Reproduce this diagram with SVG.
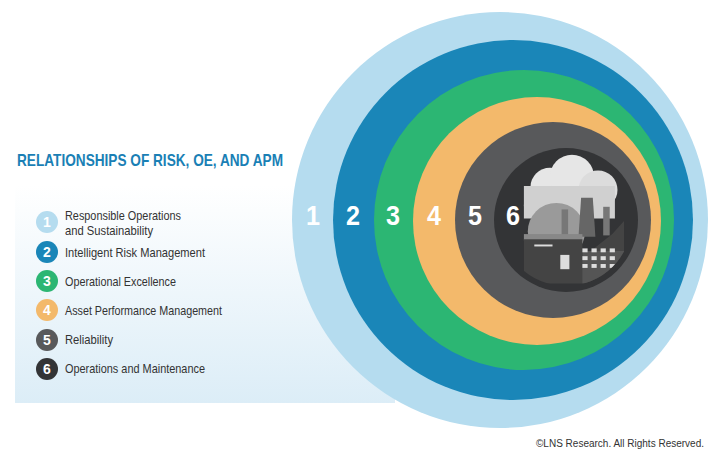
<svg xmlns="http://www.w3.org/2000/svg" width="715" height="459" viewBox="0 0 715 459">
<style>
.t{font-family:"Liberation Sans",Arial,sans-serif;font-size:13px;fill:#333}
.n{font-family:"Liberation Sans",Arial,sans-serif;font-weight:bold;font-size:14px;fill:#fff;text-anchor:middle}
.big{font-family:"Liberation Sans",Arial,sans-serif;font-weight:bold;font-size:27px;fill:#fff;text-anchor:middle}
</style>
<defs>
<linearGradient id="pg" x1="0" y1="0" x2="0" y2="1"><stop offset="0" stop-color="#fff"/><stop offset="1" stop-color="#dcedf7"/></linearGradient>
<clipPath id="cc"><circle cx="566" cy="220" r="66"/></clipPath>
</defs>
<rect width="715" height="459" fill="#fff"/>
<rect x="15" y="185" width="380" height="218" fill="url(#pg)"/>
<text x="17" y="166" font-family="Liberation Sans,Arial,sans-serif" font-weight="bold" font-size="17" fill="#1a7fb5" textLength="266" lengthAdjust="spacingAndGlyphs">RELATIONSHIPS OF RISK, OE, AND APM</text>
<g id="rings">
<circle id="r1" cx="500" cy="220" r="208" fill="#b5dcef"/>
<circle id="r2" cx="513" cy="220" r="180" fill="#1a86b8"/>
<circle id="r3" cx="524" cy="220" r="150" fill="#2cb673"/>
<circle id="r4" cx="537" cy="221" r="124" fill="#f3b96b"/>
<circle id="r5" cx="553" cy="220" r="98" fill="#58595b"/>
<circle id="r6" cx="566" cy="220" r="72" fill="#333436"/>
</g>
<g id="factory" clip-path="url(#cc)"><g transform="translate(572 212) scale(1.3) translate(-572 -215)">
<circle cx="555" cy="196" r="15" fill="#e6e6e6"/><circle cx="572" cy="188" r="17" fill="#e6e6e6"/><circle cx="592" cy="198" r="15" fill="#dcdcdc"/><circle cx="545" cy="210" r="10" fill="#d8d8d8"/>
<rect x="535" y="195" width="70" height="25" fill="#d0d0d0"/>
<circle cx="560" cy="230" r="22" fill="#9a9a9a"/>
<rect x="564" y="213" width="5" height="20" fill="#777"/><rect x="596" y="211" width="5" height="22" fill="#777"/>
<polygon points="577,234 579,204 588,204 590,234" fill="#666"/>
<rect x="535" y="232" width="45" height="5" fill="#888"/>
<polygon points="535,236 580,236 580,250 603,232 612,222 612,270 535,270" fill="#444"/>
<rect x="580" y="245" width="32" height="25" fill="#555"/>
<rect x="563" y="248" width="7" height="11" fill="#ddd"/>
<g fill="#ddd"><rect x="580" y="243" width="4" height="3"/><rect x="587" y="243" width="4" height="3"/><rect x="594" y="243" width="4" height="3"/><rect x="601" y="243" width="4" height="3"/><rect x="580" y="249" width="4" height="3"/><rect x="587" y="249" width="4" height="3"/><rect x="594" y="249" width="4" height="3"/><rect x="601" y="249" width="4" height="3"/><rect x="580" y="255" width="4" height="3"/><rect x="587" y="255" width="4" height="3"/><rect x="594" y="255" width="4" height="3"/><rect x="601" y="255" width="4" height="3"/><rect x="543" y="240" width="14" height="1.5"/></g>
</g></g>
<g id="ringnums">
<text class="big" x="313" y="225" textLength="14" lengthAdjust="spacingAndGlyphs">1</text><text class="big" x="353" y="225" textLength="14" lengthAdjust="spacingAndGlyphs">2</text><text class="big" x="393" y="225" textLength="14" lengthAdjust="spacingAndGlyphs">3</text><text class="big" x="434" y="225" textLength="14" lengthAdjust="spacingAndGlyphs">4</text><text class="big" x="475" y="225" textLength="14" lengthAdjust="spacingAndGlyphs">5</text><text class="big" x="513" y="225" textLength="14" lengthAdjust="spacingAndGlyphs">6</text>
</g>
<g id="l1"><circle cx="47" cy="222" r="11" fill="#b5dcef"/><text class="n" x="47" y="227">1</text><text class="t" x="65" y="220" textLength="116" lengthAdjust="spacingAndGlyphs">Responsible Operations</text><text class="t" x="65" y="235" textLength="88" lengthAdjust="spacingAndGlyphs">and Sustainability</text></g>
<g id="l2"><circle cx="47" cy="252" r="11" fill="#1a86b8"/><text class="n" x="47" y="257">2</text><text class="t" x="65" y="257" textLength="140" lengthAdjust="spacingAndGlyphs">Intelligent Risk Management</text></g>
<g id="l3"><circle cx="47" cy="281" r="11" fill="#2cb673"/><text class="n" x="47" y="286">3</text><text class="t" x="65" y="286" textLength="111" lengthAdjust="spacingAndGlyphs">Operational Excellence</text></g>
<g id="l4"><circle cx="47" cy="310" r="11" fill="#f3b96b"/><text class="n" x="47" y="315">4</text><text class="t" x="65" y="315" textLength="157" lengthAdjust="spacingAndGlyphs">Asset Performance Management</text></g>
<g id="l5"><circle cx="47" cy="340" r="11" fill="#58595b"/><text class="n" x="47" y="345">5</text><text class="t" x="65" y="344" textLength="48" lengthAdjust="spacingAndGlyphs">Reliability</text></g>
<g id="l6"><circle cx="47" cy="369" r="11" fill="#333436"/><text class="n" x="47" y="374">6</text><text class="t" x="65" y="373" textLength="140" lengthAdjust="spacingAndGlyphs">Operations and Maintenance</text></g>
<text x="704" y="447" text-anchor="end" font-family="Liberation Sans,Arial,sans-serif" font-size="10" fill="#333">©LNS Research. All Rights Reserved.</text>
</svg>
